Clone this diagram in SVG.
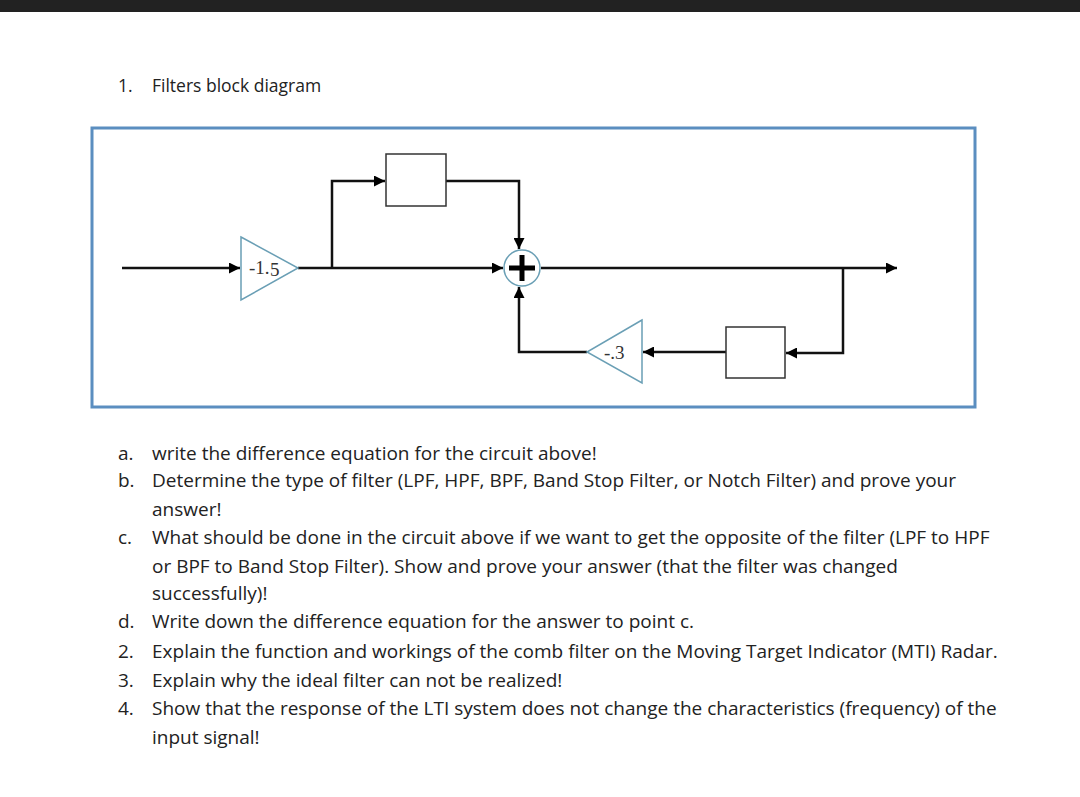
<svg xmlns="http://www.w3.org/2000/svg" width="1080" height="797" viewBox="0 0 1080 797">
<defs>
<marker id="ah" viewBox="0 0 10 10" refX="10" refY="5" markerWidth="11" markerHeight="11" markerUnits="userSpaceOnUse" orient="auto"><path d="M0,0 L10,5 L0,10 z" fill="#000"/></marker>
<style>
.t{font-family:"Open Sans","Liberation Sans",sans-serif;font-size:19px;fill:#222}
.w{fill:none;stroke:#111;stroke-width:2.5}
.blk{fill:#fff;stroke:#333;stroke-width:1.5}
.tri{fill:#fff;stroke:#6a9fb5;stroke-width:1.5}
.g{font-family:"Liberation Serif","Times New Roman",serif;font-size:19px;fill:#333}
</style>
</defs>
<rect width="1080" height="797" fill="#fff"/>
<rect width="1080" height="12" fill="#222"/>
<text class="t" x="118" y="92" style="font-size:17.5px">1.</text><text class="t" x="152" y="92" style="font-size:17.5px">Filters block diagram</text>
<rect x="92" y="128" width="883" height="279" fill="none" stroke="#5b8ec0" stroke-width="3"/>
<g id="connectors">
<path class="w" d="M122,268 H240" marker-end="url(#ah)"/>
<path class="w" d="M298,268 H503" marker-end="url(#ah)"/>
<path class="w" d="M332,268 V181 H385" marker-end="url(#ah)"/>
<path class="w" d="M446,181 H519 V249" marker-end="url(#ah)"/>
<path class="w" d="M541,268 H897" marker-end="url(#ah)"/>
<path class="w" d="M843,268 V353 H786" marker-end="url(#ah)"/>
<path class="w" d="M726,352 H643" marker-end="url(#ah)"/>
<path class="w" d="M587,352 H519 V287" marker-end="url(#ah)"/>
</g>
<g id="gain1"><polygon class="tri" points="241,237 298,268 241,300"/><text class="g" x="249" y="274">-1.</text><text class="g" x="270" y="276" font-size="11">5</text></g>
<g id="delay1"><rect class="blk" x="386" y="154" width="60" height="52"/></g>
<g id="sum"><circle cx="522" cy="268" r="18" fill="#fff" stroke="#6a9fb5" stroke-width="1.5"/><path d="M509,268 H535 M522,255 V281" stroke="#000" stroke-width="5"/></g>
<g id="delay2"><rect class="blk" x="726" y="327" width="59" height="51"/></g>
<g id="gain2"><polygon class="tri" points="642,320 587,352 642,383"/><text class="g" x="604" y="359">-.3</text></g>
<g class="t">
<text x="118" y="460">a.</text><text x="152" y="460">write the difference equation for the circuit above!</text>
<text x="118" y="487">b.</text><text x="152" y="487">Determine the type of filter (LPF, HPF, BPF, Band Stop Filter, or Notch Filter) and prove your</text>
<text x="152" y="516">answer!</text>
<text x="118" y="544">c.</text><text x="152" y="544">What should be done in the circuit above if we want to get the opposite of the filter (LPF to HPF</text>
<text x="152" y="573">or BPF to Band Stop Filter). Show and prove your answer (that the filter was changed</text>
<text x="152" y="600">successfully)!</text>
<text x="118" y="628">d.</text><text x="152" y="628">Write down the difference equation for the answer to point c.</text>
<text x="118" y="658">2.</text><text x="152" y="658">Explain the function and workings of the comb filter on the Moving Target Indicator (MTI) Radar.</text>
<text x="118" y="687">3.</text><text x="152" y="687">Explain why the ideal filter can not be realized!</text>
<text x="118" y="715">4.</text><text x="152" y="715">Show that the response of the LTI system does not change the characteristics (frequency) of the</text>
<text x="152" y="744">input signal!</text>
</g>
</svg>
